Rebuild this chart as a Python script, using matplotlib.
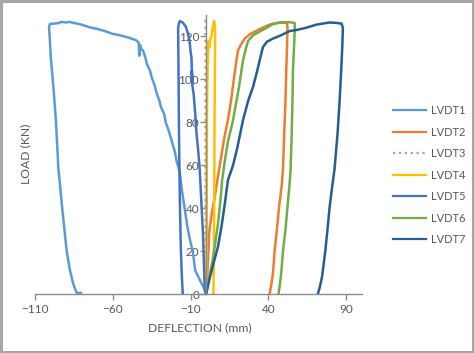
import matplotlib
matplotlib.use('Agg')
import matplotlib.pyplot as plt
from matplotlib.patches import Rectangle
from matplotlib.lines import Line2D

plt.rcParams['font.family'] = ['Lato', 'DejaVu Sans']

# ---------------- data ----------------
series_names = ['LVDT1', 'LVDT2', 'LVDT3', 'LVDT4', 'LVDT5', 'LVDT6', 'LVDT7']

lvdt1_x = [0, -1.5, -3, -5, -7, -8.6, -10, -12, -13, -15.5, -17, -19, -20, -22, -24, -26,
           -27, -29, -30, -32, -33, -35, -36, -38, -39, -40.6, -41.5, -42.5, -43, -43.3,
           -44, -44.5, -46, -48, -50, -55, -60, -65, -70, -75, -80, -85, -88, -90, -93,
           -95, -98, -100.5, -101, -100.8, -99.8, -98, -96.5, -95, -92.5, -89.7, -87.5,
           -85.5, -84, -83.2, -82, -80.5]
lvdt1_y = [0, 3, 5, 8, 11, 20, 24, 31, 36, 48, 57, 62, 66, 71, 76, 80,
           84, 87, 90, 94, 97, 101, 104, 107, 110, 113.5, 114, 116, 111, 117,
           117.5, 118, 118.5, 119, 119.5, 120.5, 121.2, 122.5, 123.5, 124.3, 125.5, 126.3, 126.8, 126.5, 126.8,
           126.2, 126, 125.8, 124, 122.8, 110, 95, 80, 59, 40, 20.5, 11,
           5, 2, 0.6, 0.5, 0.5]

lvdt2_x = [0, 0.8, 1.5, 2.0, 3.5, 5.5, 7.2, 9.5, 11.5, 14, 16, 17.6, 19.5, 20.5, 22.6,
           24.8, 28, 32, 36, 40.8, 45, 49, 52, 52.3, 52, 51.5, 51, 50.2, 49.4, 48.5,
           46.8, 45.5, 44, 43, 42, 40.8]
lvdt2_y = [0, 10, 20, 29, 37, 45, 53, 63, 72, 81, 90, 99, 109, 113.5, 116.5,
           119, 121, 122.5, 124, 125.5, 126.3, 126.5, 126.3, 124, 115, 104, 90, 75, 58, 50,
           40, 30, 20, 10, 5, 0]

lvdt3_x = [-0.3, -0.4, -0.3]
lvdt3_y = [0, 60, 128]

lvdt4_x = [0, 0.3, 0.4, 0.5, 0.8, 1.2, 1.5, 2.2, 2.8, 3.4, 4.2, 5.0, 5.6, 5.8, 5.6,
           5.4, 5.3, 5.2, 5.0, 4.7]
lvdt4_y = [0, 20, 50, 80, 100, 112, 118, 115, 119, 120, 124, 127.3, 126, 120, 100,
           80, 60, 40, 20, 0]

lvdt5_x = [0, -0.9, -2, -3, -4.1, -5, -6.2, -7, -8, -8.8, -9.2, -8.9, -9.4, -10,
           -10.5, -11.5, -13, -15, -16.9, -17.5, -18, -17.9, -17.7, -17.5, -17.2,
           -16.8, -16.2, -15.6, -15]
lvdt5_y = [0, 2, 28, 42, 58, 66, 75, 84, 93, 97, 104, 98, 110, 113,
           117, 121, 124.5, 126.5, 127.2, 126, 124, 115, 100, 80, 60,
           40, 20, 8, 0]

lvdt6_x = [0, 2, 4, 5.5, 7.5, 9, 10.3, 12, 14, 17.3, 19, 21, 23.7, 25.8, 27, 30.1,
           35, 40, 43, 48, 53, 56.9, 57, 56.5, 55.8, 55.5, 55, 54.3, 53.5, 52.2,
           51, 49.4, 48.3, 47.5, 46.5]
lvdt6_y = [0, 8, 15, 22, 32, 42, 53, 62, 71, 81, 88, 96, 108.8, 115, 118, 120.5,
           122.5, 124.5, 125.8, 126.5, 126.7, 126.3, 124, 115, 104, 90, 75, 58, 50, 40,
           30, 20, 10, 5, 0]

lvdt7_x = [0, 2.5, 5, 7.6, 10, 12, 14, 17.3, 20, 23.7, 27, 30.1, 32.5, 34.4, 36.5,
           39, 42.9, 48, 53.6, 58, 64, 70.8, 75, 79.3, 84, 87, 87.9, 87.5, 86.8,
           85.8, 84.5, 82.5, 81, 79.3, 78, 76.6, 74.5, 73, 71.8]
lvdt7_y = [0, 8, 15, 22, 32, 42, 53, 60, 68, 81, 90, 96.4, 103, 108.8, 115,
           117.5, 119, 120.5, 122.5, 123, 124, 125.5, 126, 126.5, 126.3, 126, 124, 115, 104,
           90, 75, 58, 50, 40, 30, 20, 8, 3, 0]

x_ticks = [-110, -60, -10, 40, 90]
y_ticks = [0, 20, 40, 60, 80, 100, 120]

colors = ['#5B9BD5', '#ED7D31', '#A5A5A5', '#FFC000', '#4472C4', '#70AD47', '#255E91']
styles = ['-', '-', ':', '-', '-', '-', '-']

xs = [lvdt1_x, lvdt2_x, lvdt3_x, lvdt4_x, lvdt5_x, lvdt6_x, lvdt7_x]
ys = [lvdt1_y, lvdt2_y, lvdt3_y, lvdt4_y, lvdt5_y, lvdt6_y, lvdt7_y]

# ---------------- figure ----------------
fig = plt.figure(figsize=(4.74, 3.53), dpi=100)
ax = fig.add_axes([0.0738, 0.1671, 0.6893, 0.7904])

for x, y, c, ls, name in zip(xs, ys, colors, styles, series_names):
    ax.plot(x, y, color=c, lw=1.8, ls=ls, label=name, solid_joinstyle='round')

ax.set_xlim(-110, 100)
ax.set_ylim(0, 130)
ax.set_xticks(x_ticks)
ax.set_yticks(y_ticks)
ax.spines['left'].set_position(('data', 0))
ax.spines['top'].set_visible(False)
ax.spines['right'].set_visible(False)
for s in ('left', 'bottom'):
    ax.spines[s].set_color('#8C8C8C')
    ax.spines[s].set_linewidth(1.0)
ax.tick_params(axis='both', direction='out', length=4, width=1.0, color='#8C8C8C',
               labelcolor='#595959', labelsize=8.5)
ax.tick_params(axis='y', pad=1)
ax.tick_params(axis='x', pad=3)
ax.patch.set_alpha(0)

fig.text(200 / 474, 1 - 328 / 353, 'DEFLECTION (mm)', ha='center', va='center',
         fontsize=8.7, color='#595959')
fig.text(26 / 474, 1 - 154 / 353, 'LOAD (KN)', ha='center', va='center',
         rotation=90, fontsize=8.7, color='#595959')

handles = [Line2D([0], [0], color=c, lw=1.6, ls=ls) for c, ls in zip(colors, styles)]
leg = fig.legend(handles, series_names, loc='upper left',
                 bbox_to_anchor=(393 / 474, 1 - 105 / 353), frameon=False,
                 fontsize=8, handlelength=3.0, handletextpad=0.4,
                 labelspacing=0.95, borderpad=0, borderaxespad=0)
for t in leg.get_texts():
    t.set_color('#595959')

fig.patches.append(Rectangle((0.003, 0.004), 0.994, 0.992, transform=fig.transFigure,
                             fill=False, edgecolor='#A6A6A6', lw=2.2))

fig.savefig('out.png', dpi=100)
